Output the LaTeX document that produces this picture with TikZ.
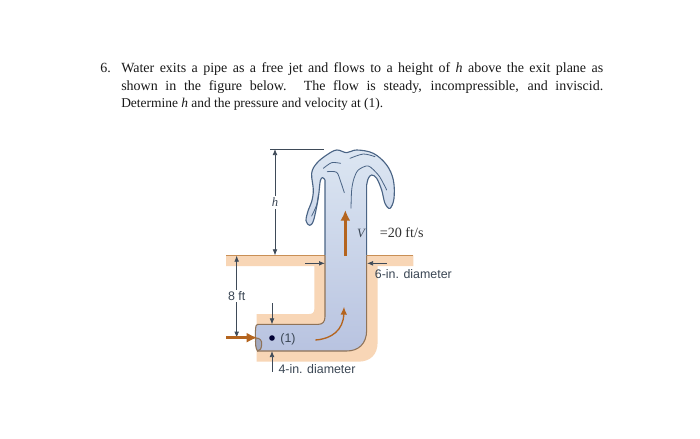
\documentclass[tikz,border=0pt]{standalone}
\usepackage{fontspec}
\setmainfont{Liberation Serif}
\newfontfamily\labelfont{Liberation Sans}
\usetikzlibrary{arrows.meta}
\definecolor{pink}{HTML}{F8D6B6}
\definecolor{jetedge}{HTML}{4A6485}
\definecolor{pipeedge}{HTML}{8F7358}
\definecolor{flow}{HTML}{B4641E}
\definecolor{dim}{HTML}{3E4A58}
\definecolor{lab}{HTML}{3A4654}
\definecolor{bandedge}{HTML}{C98F55}
\definecolor{watertop}{HTML}{DCE6F2}
\definecolor{watermid}{HTML}{C8D3E8}
\definecolor{waterlow}{HTML}{B8C3E0}
\definecolor{capfill}{HTML}{A2A9C0}
\tikzset{
 textline/.style={anchor=base west,inner sep=0pt,font=\fontsize{10.5pt}{13pt}\selectfont,text=black!90},
 dimline/.style={draw=dim,line width=.5pt},
 dimarrow/.style={dimline,-{Latex[length=4.5pt,width=3.5pt]}},
 dimboth/.style={dimline,{Latex[length=4.5pt,width=3.5pt]}-{Latex[length=4.5pt,width=3.5pt]}},
 flowarrow/.style={draw=flow,line width=2pt,-{Latex[length=8pt,width=7.5pt]}},
 flowthin/.style={draw=flow,line width=1pt,-{Latex[length=6pt,width=5pt]}},
 tag/.style={font=\labelfont\fontsize{9.3pt}{10pt}\selectfont,text=lab,inner sep=1pt},
 inner/.style={draw=jetedge,line width=.6pt,line cap=round},
}
\begin{document}
\begin{tikzpicture}[x=.75pt,y=-.75pt]
\useasboundingbox (0,0) rectangle (700,439);
\fill[white] (0,0) rectangle (700,439);
% problem text
\node[textline] (n6) at (100,72) {6.};
\node[textline] (l1) at (121,72) {\makebox[361.5pt][s]{Water exits a pipe as a free jet and flows to a height of \textit{h} above the exit plane as}};
\node[textline] (l2) at (121,90) {\makebox[361.5pt][s]{shown in the figure below. The flow is steady, incompressible, and inviscid.}};
\node[textline,font=\fontsize{10.1pt}{13pt}\selectfont] (l3) at (121,107) {\makebox[196.5pt][s]{Determine \textit{h} and the pressure and velocity at (1).}};
\begin{scope}[shift={(210,140)},x=.25pt,y=-.25pt]
% ground
\fill[pink] (48,346) -- (610,346) -- (610,378) -- (503,378) -- (503,605)
  .. controls (503,645) and (480,665) .. (445,665) -- (140,665) -- (140,522) -- (298,522)
  .. controls (308,522) and (313,517) .. (313,507) -- (313,378) -- (48,378) -- cycle;
\draw[bandedge,line width=.7pt] (48,346) -- (345,346) (470,346) -- (610,346);
% water
\path[top color=watertop,middle color=watermid,bottom color=waterlow,shading angle=0]
  plot[smooth,tension=.6] coordinates {(345,120) (338,113) (331,122) (326,165) (320,200) (310,243) (299,256) (288,242) (295,210) (305,185) (310,150) (305,100) (320,70) (350,45) (380,30) (410,38) (440,30) (490,40) (530,75) (550,120) (552,175) (540,205) (525,190) (515,150) (500,115) (485,105) (475,115) (470,135)}
  -- (470,570) .. controls (470,612) and (445,633) .. (410,633) -- (143,633)
  .. controls (135,620) and (135,570) .. (138,558) .. controls (140,553) and (142,553) .. (150,553)
  -- (325,553) .. controls (338,553) and (345,545) .. (345,530) -- cycle;
% jet outline
\draw[jetedge,line width=.85pt,line join=round] (345,346) -- (345,120)
  plot[smooth,tension=.6] coordinates {(345,120) (338,113) (331,122) (326,165) (320,200) (310,243) (299,256) (288,242) (295,210) (305,185) (310,150) (305,100) (320,70) (350,45) (380,30) (410,38) (440,30) (490,40) (530,75) (550,120) (552,175) (540,205) (525,190) (515,150) (500,115) (485,105) (475,115) (470,135)}
  -- (470,346);
\draw[inner] plot[smooth] coordinates {(352,95) (380,97) (392,125) (403,158)};
\draw[inner] plot[smooth] coordinates {(340,85) (365,68) (392,70)};
\draw[inner] plot[smooth] coordinates {(423,205) (425,150) (432,115) (445,90) (475,78) (505,105) (520,130) (530,150)};
\draw[inner] plot[smooth] coordinates {(420,55) (460,42) (495,50)};
\draw[inner] plot[smooth] coordinates {(305,228) (320,195) (325,165)};
% pipe outline
\draw[pipeedge,line width=.8pt,line join=round] (345,346) -- (345,530) .. controls (345,545) and (338,553) .. (325,553) -- (150,553)
  .. controls (142,553) and (140,553) .. (138,558) .. controls (135,570) and (135,620) .. (143,633) -- (410,633)
  .. controls (445,633) and (470,612) .. (470,570) -- (470,346);
\draw[pipeedge,fill=capfill,line width=.8pt] (138,594) .. controls (150,594) and (156,602) .. (155,612) .. controls (155,625) and (150,633) .. (143,633) .. controls (136,625) and (135,605) .. (138,594) -- cycle;
% dimensions
\coordinate (hTop) at (195,27);
\coordinate (hBot) at (195,346);
\coordinate (hRefL) at (180,27);
\coordinate (hRefR) at (343,27);
\draw[dimline] (hRefL) -- (hRefR);
\draw[dimboth] (hTop) -- node[midway,fill=white,inner sep=1.5pt,font=\fontsize{9.5pt}{10pt}\selectfont\itshape,text=lab] (hLab) {h} (hBot);
\coordinate (eTop) at (80,347);
\coordinate (eBot) at (80,593);
\draw[dimboth] (eTop) -- node[pos=.49,fill=white,inner sep=1.5pt,tag] (eLab) {8 ft} (eBot);
\coordinate (a1) at (285,370); \coordinate (a2) at (345,370);
\coordinate (b1) at (530,370); \coordinate (b2) at (471,370);
\draw[dimarrow] (a1) -- (a2);
\draw[dimarrow] (b1) -- (b2);
\coordinate (c1) at (186,490); \coordinate (c2) at (186,553);
\coordinate (d1) at (186,695); \coordinate (d2) at (186,633);
\draw[dimarrow] (c1) -- (c2);
\draw[dimarrow] (d1) -- (d2);
% flow arrows
\coordinate (in1) at (48,593); \coordinate (in2) at (142,593);
\draw[flowarrow] (in1) -- (in2);
\coordinate (up1) at (406,348); \coordinate (up2) at (406,210);
\draw[flowarrow] (up1) -- (up2);
\coordinate (cv1) at (316,600); \coordinate (cv2) at (402,500);
\draw[flowthin] (cv1) .. controls (365,597) and (400,570) .. (cv2);
% labels
\fill[black!80!blue] (186,594) circle (2.1pt);
\node[tag] (one) at (234,597) {(1)};
\node[tag] (six) at (610,401) {6-in. diameter};
\node[tag] (four) at (321,687) {4-in. diameter};
\node[inner sep=0pt,font=\fontsize{9.5pt}{10pt}\selectfont\itshape,text=lab] (vee) at (453,279) {V};
\node[inner sep=0pt,font=\fontsize{10.6pt}{11pt}\selectfont,text=black!80] (vel) at (575,277) {=20 ft/s};
\end{scope}
\end{tikzpicture}
\end{document}
